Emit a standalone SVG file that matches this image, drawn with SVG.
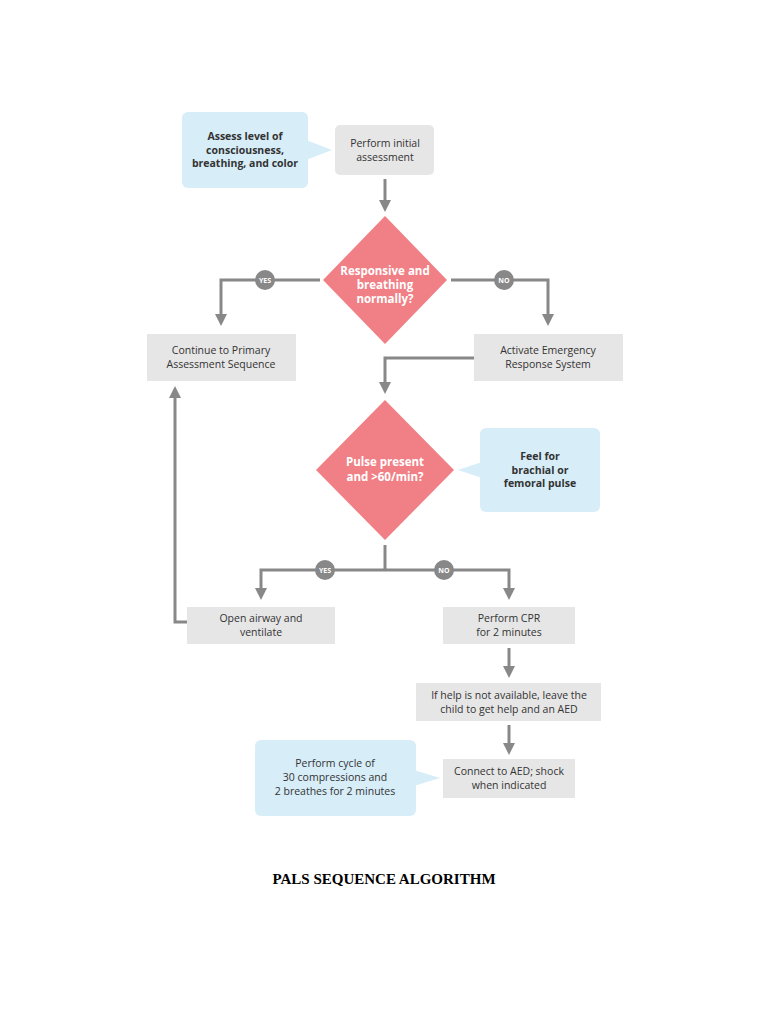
<svg xmlns="http://www.w3.org/2000/svg" width="768" height="1024" viewBox="0 0 768 1024">
<style>
.box{fill:#e6e6e6}
.note{fill:#d7edf8}
.dia{fill:#f07f86}
.t{font-family:"Open Sans","Liberation Sans",sans-serif;font-size:10.5px;fill:#333;text-anchor:middle}
.b{font-weight:bold}
.dt{font-family:"Open Sans","Liberation Sans",sans-serif;font-size:11.5px;font-weight:bold;fill:#fff;text-anchor:middle}
.ln{fill:none;stroke:#888;stroke-width:3}
.lb{font-family:"Open Sans","Liberation Sans",sans-serif;font-size:7px;font-weight:bold;fill:#fff;text-anchor:middle}
</style>
<defs>
<marker id="a" viewBox="0 0 10 10" refX="5" refY="5" markerWidth="4.5" markerHeight="4" markerUnits="strokeWidth" orient="auto"><path d="M0,0L10,5L0,10z" fill="#888"/></marker>
</defs>
<rect width="768" height="1024" fill="#fff"/>
<g id="connectors">
<path class="ln" d="M385,179V206" marker-end="url(#a)"/>
<path class="ln" d="M320,280H221V320" marker-end="url(#a)"/>
<path class="ln" d="M451,280H548V320" marker-end="url(#a)"/>
<path class="ln" d="M474,358H385V388" marker-end="url(#a)"/>
<path class="ln" d="M385,545V570"/>
<path class="ln" d="M385,570H261V594" marker-end="url(#a)"/>
<path class="ln" d="M385,570H509V594" marker-end="url(#a)"/>
<path class="ln" d="M187,622H175V392" marker-end="url(#a)"/>
<path class="ln" d="M509,648V672" marker-end="url(#a)"/>
<path class="ln" d="M509,725V749" marker-end="url(#a)"/>
<circle cx="265" cy="280" r="10" fill="#888"/><text class="lb" x="265" y="282.5">YES</text>
<circle cx="504" cy="280" r="10" fill="#888"/><text class="lb" x="504" y="282.5">NO</text>
<circle cx="325" cy="570" r="10" fill="#888"/><text class="lb" x="325" y="572.5">YES</text>
<circle cx="444" cy="570" r="10" fill="#888"/><text class="lb" x="444" y="572.5">NO</text>
</g>
<g id="note1"><rect class="note" x="182" y="112" width="126" height="76" rx="6"/><path class="note" d="M306,140L332,150L306,160z"/>
<text class="t b" x="245" y="140">Assess level of</text><text class="t b" x="245" y="154">consciousness,</text><text class="t b" x="245" y="167">breathing, and color</text></g>
<g id="initial"><rect class="box" x="335" y="125" width="99" height="50" rx="5"/>
<text class="t" x="385" y="147">Perform initial</text><text class="t" x="385" y="161">assessment</text></g>
<g id="dec1"><path class="dia" d="M385,216L447,280L385,344L323,280z"/>
<text class="dt" x="385" y="275">Responsive and</text><text class="dt" x="385" y="289">breathing</text><text class="dt" x="385" y="303">normally?</text></g>
<g id="continue"><rect class="box" x="147" y="334" width="149" height="47"/>
<text class="t" x="221" y="354">Continue to Primary</text><text class="t" x="221" y="368">Assessment Sequence</text></g>
<g id="activate"><rect class="box" x="474" y="334" width="149" height="47"/>
<text class="t" x="548" y="354">Activate Emergency</text><text class="t" x="548" y="368">Response System</text></g>
<g id="dec2"><path class="dia" d="M385,400L454,470L385,540L316,470z"/>
<text class="dt" x="385" y="466">Pulse present</text><text class="dt" x="385" y="481">and &gt;60/min?</text></g>
<g id="note2"><rect class="note" x="480" y="428" width="120" height="84" rx="6"/><path class="note" d="M482,462L458,470L482,478z"/>
<text class="t b" x="540" y="460">Feel for</text><text class="t b" x="540" y="474">brachial or</text><text class="t b" x="540" y="487">femoral pulse</text></g>
<g id="airway"><rect class="box" x="187" y="607" width="148" height="37"/>
<text class="t" x="261" y="622">Open airway and</text><text class="t" x="261" y="636">ventilate</text></g>
<g id="cpr"><rect class="box" x="443" y="607" width="132" height="37"/>
<text class="t" x="509" y="622">Perform CPR</text><text class="t" x="509" y="636">for 2 minutes</text></g>
<g id="help"><rect class="box" x="416" y="683" width="185" height="38"/>
<text class="t" x="509" y="699">If help is not available, leave the</text><text class="t" x="509" y="713">child to get help and an AED</text></g>
<g id="aed"><rect class="box" x="443" y="759" width="132" height="39"/>
<text class="t" x="509" y="775">Connect to AED; shock</text><text class="t" x="509" y="789">when indicated</text></g>
<g id="note3"><rect class="note" x="255" y="740" width="161" height="76" rx="6"/><path class="note" d="M414,770L440,778L414,786z"/>
<text class="t" x="335" y="767">Perform cycle of</text><text class="t" x="335" y="781">30 compressions and</text><text class="t" x="335" y="795">2 breathes for 2 minutes</text></g>
<text x="384" y="884" font-family="'Liberation Serif',serif" font-weight="bold" font-size="15" text-anchor="middle" fill="#000">PALS SEQUENCE ALGORITHM</text>
</svg>
